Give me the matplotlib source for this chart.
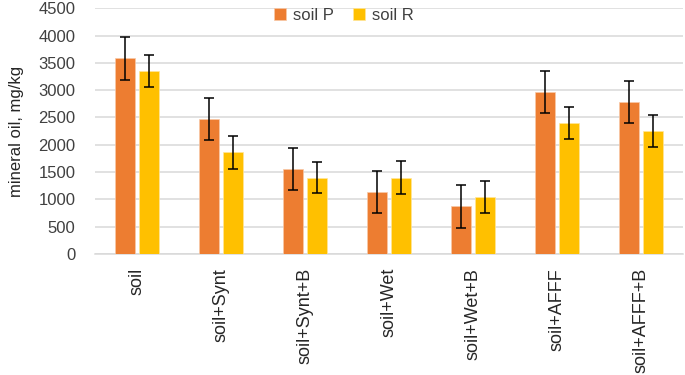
import matplotlib
matplotlib.use("Agg")
import matplotlib.pyplot as plt
import numpy as np

categories = ["soil", "soil+Synt", "soil+Synt+B", "soil+Wet", "soil+Wet+B", "soil+AFFF", "soil+AFFF+B"]
soil_P = [3580, 2480, 1550, 1130, 870, 2960, 2780]
soil_P_err = [395, 385, 385, 383, 398, 385, 390]
soil_R = [3350, 1860, 1400, 1400, 1040, 2400, 2250]
soil_R_err = [297, 297, 290, 295, 295, 295, 297]
yticks = [0, 500, 1000, 1500, 2000, 2500, 3000, 3500, 4000, 4500]

plt.rcParams['font.family'] = ['Liberation Sans', 'DejaVu Sans']

fig = plt.figure(figsize=(6.85, 3.75), dpi=100)
ax = fig.add_axes([0.1387, 0.3227, 0.8583, 0.6553])

x = np.arange(len(categories))
w = 0.23
off = 0.143
ekw = dict(ecolor='black', elinewidth=1.1, capthick=1.1)
ax.bar(x - off, soil_P, w, color='#ED7D31', edgecolor='#F8C9A8', linewidth=0.5,
       yerr=soil_P_err, capsize=3.5, error_kw=ekw, label='soil P', zorder=3)
ax.bar(x + off, soil_R, w, color='#FFC000', edgecolor='#FFE699', linewidth=0.5,
       yerr=soil_R_err, capsize=3.5, error_kw=ekw, label='soil R', zorder=3)

ax.set_xlim(-0.5, len(categories) - 0.5)
ax.set_ylim(0, 4500)
ax.set_yticks(yticks)
ax.set_yticklabels([str(v) for v in yticks], fontsize=12, color='#404040')
ax.set_xticks(x)
ax.set_xticklabels(categories, rotation=90, fontsize=13, color='#262626')
ax.tick_params(axis='both', length=0)
ax.tick_params(axis='x', pad=10)
ax.tick_params(axis='y', pad=14)
ax.grid(axis='y', color='#D9D9D9', linewidth=1.1, zorder=0)
ax.set_axisbelow(True)
for s in ['top', 'right', 'left']:
    ax.spines[s].set_visible(False)
ax.spines['bottom'].set_color('#D9D9D9')
ax.spines['bottom'].set_linewidth(1.1)

ax.set_ylabel('mineral oil, mg/kg', fontsize=12, color='#262626')
ax.yaxis.set_label_coords(-0.12, 0.5)

fig.legend(loc='center', bbox_to_anchor=(0.502, 0.96), ncol=2, frameon=False,
           fontsize=12, handlelength=0.7, handleheight=0.7, handletextpad=0.4,
           columnspacing=1.2, labelcolor='#404040')

fig.savefig('out.png', dpi=100)
